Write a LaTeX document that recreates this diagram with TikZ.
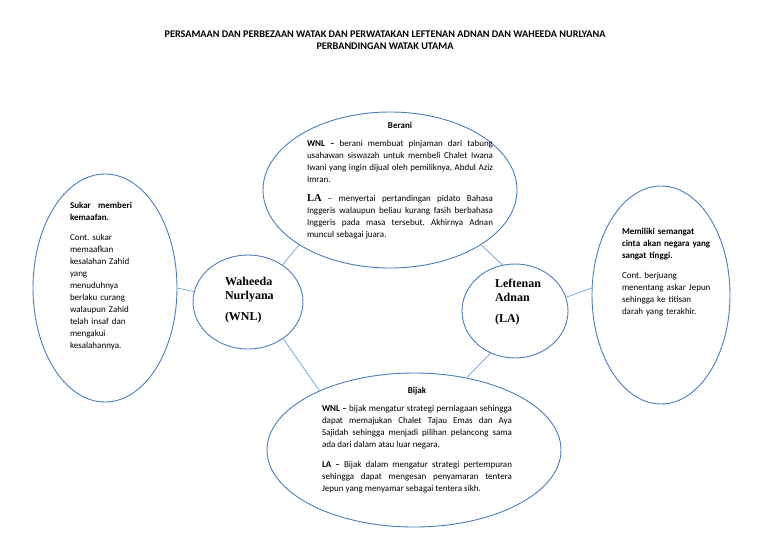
\documentclass[tikz,border=0pt]{standalone}
\usepackage{fontspec}
\setmainfont{Carlito}
\newfontfamily\tnr{Liberation Serif}
\usetikzlibrary{shapes.geometric}
\definecolor{edgeblue}{RGB}{74,126,187}
\definecolor{linkblue}{RGB}{110,160,215}
\frenchspacing
\begin{document}
\frenchspacing
\begin{tikzpicture}[x=1pt,y=-1pt,
  oval/.style={ellipse, draw=edgeblue, line width=0.9pt, fill=white, inner sep=0pt, outer sep=0pt},
  link/.style={draw=linkblue, line width=0.7pt},
  body/.style={inner sep=0pt, outer sep=0pt, font=\fontsize{9}{12}\selectfont\frenchspacing},
  circtext/.style={inner sep=0pt, outer sep=0pt, align=left, font=\tnr\bfseries\fontsize{12}{14}\selectfont}
]
\useasboundingbox (0,0) rectangle (768,544);

% title
\node[inner sep=0pt, anchor=north, align=center, font=\bfseries\fontsize{10.2}{12}\selectfont] (title) at (385,30.5)
  {PERSAMAAN DAN PERBEZAAN WATAK DAN PERWATAKAN LEFTENAN ADNAN DAN WAHEEDA NURLYANA\\PERBANDINGAN WATAK UTAMA};

% shapes
\node[oval, minimum width=254pt, minimum height=156pt] (berani) at (390,190) {};
\node[oval, minimum width=294pt, minimum height=154pt] (bijak) at (414,450) {};
\node[oval, minimum width=144pt, minimum height=228pt] (sukar) at (105,288) {};
\node[oval, minimum width=138pt, minimum height=218pt] (semangat) at (661,295) {};
\node[oval, minimum width=110pt, minimum height=94pt] (wnl) at (248,302) {};
\node[oval, minimum width=106pt, minimum height=94pt] (la) at (515,311) {};

% connectors
\draw[link] (berani.211) -- (wnl.47);
\draw[link] (berani.329) -- (la.105);
\draw[link] (sukar.0) -- (wnl.169);
\draw[link] (wnl.314) -- (bijak.148);
\draw[link] (la.240) -- (bijak.54);
\draw[link] (la.15) -- (semangat.174);

% circle texts
\node[circtext, anchor=north west] (wnltext) at (225,277)
  {Waheeda\\Nurlyana\\[7pt](WNL)};
\node[circtext, anchor=north west] (latext) at (495,279)
  {Leftenan\\Adnan\\[7pt](LA)};

% top ellipse text
\node[body, anchor=north, text width=186pt, align=justify] (beranitext) at (400,122)
  {{\centering\textbf{Berani}\par}\vspace{6pt}
   \textbf{WNL –} berani membuat pinjaman dari tabung\linebreak
   usahawan siswazah untuk membeli Chalet Iwana\linebreak
   Iwani yang ingin dijual oleh pemiliknya, Abdul Aziz\linebreak
   Imran.\par\vspace{7pt}
   \noindent{\tnr\bfseries\fontsize{10.5}{12}\selectfont LA} – menyertai pertandingan pidato Bahasa\linebreak
   Inggeris walaupun beliau kurang fasih berbahasa\linebreak
   Inggeris pada masa tersebut. Akhirnya Adnan\linebreak
   muncul sebagai juara.};

% bottom ellipse text
\node[body, anchor=north, text width=190pt, align=justify] (bijaktext) at (417,387)
  {{\centering\textbf{Bijak}\par}\vspace{6pt}
   \textbf{WNL –} bijak mengatur strategi perniagaan sehingga\linebreak
   dapat memajukan Chalet Tajau Emas dan Aya\linebreak
   Sajidah sehingga menjadi pilihan pelancong sama\linebreak
   ada dari dalam atau luar negara.\par\vspace{8pt}
   \textbf{LA –} Bijak dalam mengatur strategi pertempuran\linebreak
   sehingga dapat mengesan penyamaran tentera\linebreak
   Jepun yang menyamar sebagai tentera sikh.};

% left ellipse text
\node[body, anchor=north west, text width=62pt, align=left] (sukartext) at (70,202)
  {\hbox to 62pt{\textbf{Sukar}\hfill\textbf{memberi}}\\
   \textbf{kemaafan.}\\[8pt]
   Cont. sukar\\
   memaafkan\\
   kesalahan Zahid\\
   yang\\
   menuduhnya\\
   berlaku curang\\
   walaupun Zahid\\
   telah insaf dan\\
   mengakui\\
   kesalahannya.};

% right ellipse text
\node[body, anchor=north west, text width=92pt, align=left] (semangattext) at (622,228)
  {\textbf{Memiliki semangat}\\
   \textbf{cinta akan negara yang}\\
   \textbf{sangat tinggi.}\\[8pt]
   Cont. berjuang\\
   menentang askar Jepun\\
   sehingga ke titisan\\
   darah yang terakhir.};
\end{tikzpicture}
\end{document}
